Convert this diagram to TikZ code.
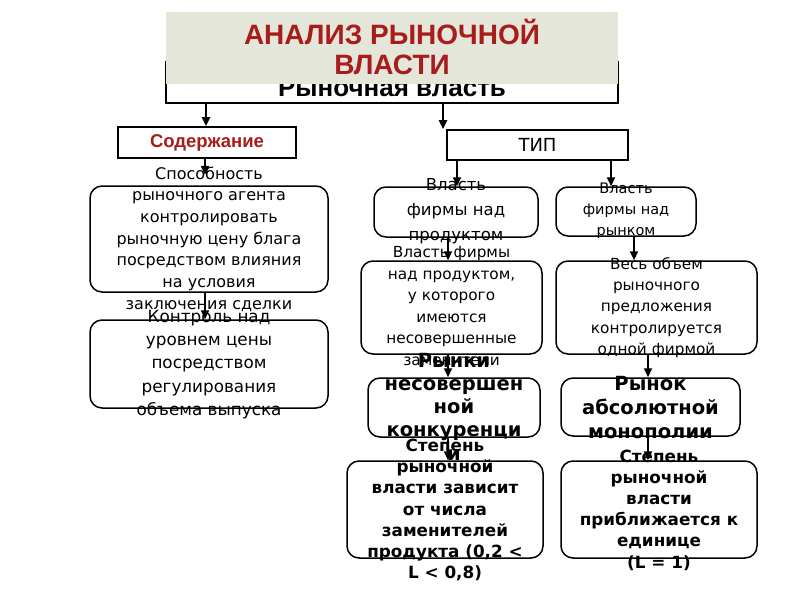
\documentclass[tikz,border=0pt]{standalone}
\usepackage{fontspec}
\setmainfont{DejaVu Sans}
\newfontfamily\titlefont{Liberation Sans}
\usetikzlibrary{arrows.meta}
\definecolor{titlebg}{HTML}{E4E6DA}
\definecolor{darkred}{HTML}{A81C1C}
\begin{document}
\begin{tikzpicture}[x=1pt,y=-1pt,
  rbox/.style={draw,line width=1.5pt,rounded corners=12pt,inner sep=0pt},
  sbox/.style={draw,line width=1.7pt,inner sep=0pt},
  txt/.style={align=center,inner sep=0pt},
  arr/.style={line width=2pt,-{Triangle[length=9pt,width=8pt]}}]
\useasboundingbox (0,0) rectangle (800,600);
\fill[white] (0,0) rectangle (800,600);
% header
\node[sbox,line width=2.8pt,minimum width=452pt,minimum height=41pt] (hdr) at (392,82.5) {};
\node[txt,font=\titlefont\bfseries\fontsize{26}{26}\selectfont] (hdrt) at (392,88) {Рыночная власть};
\fill[titlebg] (166,12) rectangle (618,84);
\node[txt,text=darkred,font=\titlefont\bfseries\fontsize{28}{30}\selectfont] (title) at (392,47) {АНАЛИЗ РЫНОЧНОЙ\\ВЛАСТИ};
% level 1
\node[sbox,minimum width=178pt,minimum height=31pt,text=darkred,font=\titlefont\bfseries\fontsize{18.5}{18.5}\selectfont] (cont) at (207,142.5) {Содержание};
\node[sbox,minimum width=181pt,minimum height=30pt,font=\fontsize{18}{18}\selectfont] (tip) at (537.5,145) {ТИП};
\draw[arr] (hdr.south -| 206,0) -- (cont.north -| 206,0);
\draw[arr] (hdr.south -| 443,0) -- (tip.north -| 443,0);
% left column
\node[rbox,minimum width=238pt,minimum height=106pt] (l1) at (209,239) {};
\node[txt,font=\fontsize{16}{21.7}\selectfont] (l1t) at (209,239) {Способность\\рыночного агента\\контролировать\\рыночную цену блага\\посредством влияния\\на условия\\заключения сделки};
\node[rbox,minimum width=238pt,minimum height=88pt] (l2) at (209,364) {};
\node[txt,font=\fontsize{16.8}{23.2}\selectfont] (l2t) at (209,364.5) {Контроль над\\уровнем цены\\посредством\\регулирования\\объема выпуска};
\draw[arr] (cont.south -| 205,0) -- ++(0,16);
\draw[arr] (l1.south -| 205,0) -- (l2.north -| 205,0);
% middle column
\node[rbox,minimum width=164pt,minimum height=50pt] (m1) at (456,212) {};
\node[txt,font=\fontsize{16.5}{25}\selectfont] (m1t) at (456,211) {Власть\\фирмы над\\продуктом};
\node[rbox,minimum width=181pt,minimum height=93pt] (m2) at (451.5,307.5) {};
\node[txt,font=\fontsize{15.3}{21.6}\selectfont] (m2t) at (451.5,306) {Власть фирмы\\над продуктом,\\у которого\\имеются\\несовершенные\\заменители};
\node[rbox,minimum width=172pt,minimum height=59pt] (m3) at (454,407.5) {};
\node[txt,font=\bfseries\fontsize{19.5}{23.3}\selectfont] (m3t) at (454,406.5) {Рынки\\несовершен\\ной\\конкуренци\\и};
\node[rbox,minimum width=196pt,minimum height=97pt] (m4) at (445,509.5) {};
\node[txt,font=\bfseries\fontsize{16.8}{21.3}\selectfont] (m4t) at (445,510) {Степень\\рыночной\\власти зависит\\от числа\\заменителей\\продукта (0,2 <\\L < 0,8)};
\draw[arr] (tip.south -| 457,0) -- (m1.north -| 457,0);
\draw[arr] (m1.south -| 448,0) -- (m2.north -| 448,0);
\draw[arr] (m2.south -| 448,0) -- (m3.north -| 448,0);
\draw[arr] (m3.south -| 448,0) -- (m4.north -| 448,0);
% right column
\node[rbox,minimum width=140pt,minimum height=49pt] (r1) at (626,211.5) {};
\node[txt,font=\fontsize{14.5}{21}\selectfont] (r1t) at (626,211) {Власть\\фирмы над\\рынком};
\node[rbox,minimum width=201pt,minimum height=93pt] (r2) at (656.5,307.5) {};
\node[txt,font=\fontsize{15.3}{21.2}\selectfont] (r2t) at (656.5,307.5) {Весь объем\\рыночного\\предложения\\контролируется\\одной фирмой};
\node[rbox,minimum width=179pt,minimum height=58pt] (r3) at (650.5,407) {};
\node[txt,font=\bfseries\fontsize{19.5}{24}\selectfont] (r3t) at (650.5,408) {Рынок\\абсолютной\\монополии};
\node[rbox,minimum width=196pt,minimum height=97pt] (r4) at (659,509.5) {};
\node[txt,font=\bfseries\fontsize{16.8}{21.2}\selectfont] (r4t) at (659,510) {Степень\\рыночной\\власти\\приближается к\\единице\\(L = 1)};
\draw[arr] (tip.south -| 611,0) -- (r1.north -| 611,0);
\draw[arr] (r1.south -| 634,0) -- (r2.north -| 634,0);
\draw[arr] (r2.south -| 648,0) -- (r3.north -| 648,0);
\draw[arr] (r3.south -| 648,0) -- (r4.north -| 648,0);
\end{tikzpicture}
\end{document}
